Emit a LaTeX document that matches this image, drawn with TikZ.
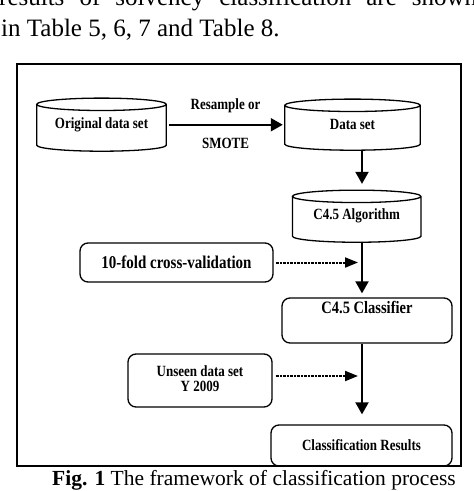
\documentclass[tikz,border=0pt]{standalone}
\usepackage{fontspec}
\usepackage{graphicx}
\setmainfont{Liberation Serif}
\usetikzlibrary{arrows.meta,calc}
\newcommand\tall[1]{\scalebox{1}[1.2]{#1}}
\newcommand\cylout[1]{%
  \draw[line width=1.3pt] let \p1=($(#1.north east)-(#1.north west)$) in
    (#1.north west) -- (#1.south west)
    arc[start angle=180,end angle=360,x radius=0.5*\x1,y radius=6pt]
    -- (#1.north east)
    arc[start angle=0,end angle=360,x radius=0.5*\x1,y radius=6.2pt];}
\begin{document}
\begin{tikzpicture}[x=1pt,y=1pt,
  lbl/.style={font=\fontsize{13}{15}\selectfont\bfseries,inner sep=0pt,align=center},
  rbox/.style={lbl,draw,rounded corners=8pt,line width=1.3pt},
  solidarrow/.style={line width=2pt,-{Triangle[length=12pt,width=13pt]}},
  dotarrow/.style={line width=2pt,dash pattern=on 0.9pt off 0.5pt,-{Triangle[length=13pt,width=10pt]}},
  para/.style={anchor=base west,inner sep=0pt,font=\fontsize{25}{30}\selectfont}]
\useasboundingbox (0,0) rectangle (474,-491);
% surrounding text
\node[para] (line1) at (-1,-5) {\makebox[478pt][s]{results of solvency classification are shown}};
\node[para] (line2) at (1,-36) {in Table 5, 6, 7 and Table 8.};
% frame
\node[draw,line width=1.5pt,minimum width=444,minimum height=402,inner sep=0pt] (frame) at (239,-265) {};
\coordinate (spine) at (362,0);
% cylinders
\node[lbl,minimum width=129,minimum height=40.5] (orig) at (101.5,-124.75) {\tall{Original data set}};
\cylout{orig}
\node[lbl,minimum width=135,minimum height=38.5] (data) at (352.5,-124.75) {\tall{Data set}};
\cylout{data}
\node[lbl,minimum width=128,minimum height=39.5] (algo) at (356.7,-216.3) {\tall{C4.5 Algorithm}};
\cylout{algo}
% rounded boxes
\node[rbox,minimum width=193,minimum height=39,font=\fontsize{15}{18}\selectfont\bfseries] (tenfold) at (176.5,-262.5) {\tall{10-fold cross-validation}};
\node[rbox,minimum width=170,minimum height=45,font=\fontsize{14.5}{17}\selectfont\bfseries,text height=11pt,text depth=26pt] (classifier) at (367,-320.5) {\tall{C4.5 Classifier}};
\node[rbox,minimum width=144,minimum height=53] (unseen) at (200,-380.5) {\tall{\fontsize{13}{12.5}\selectfont\begin{tabular}{@{}c@{}}Unseen data set\\Y 2009\end{tabular}}};
\node[rbox,minimum width=181,minimum height=41] (results) at (361.5,-445.5) {\tall{Classification Results}};
% connectors
\draw[solidarrow,shorten <=3pt,shorten >=2pt] (orig.east) -- node[lbl,above=11pt] (lblA) {\tall{Resample or}} node[lbl,below=12pt] (lblB) {\tall{SMOTE}} (data.west);
\draw[solidarrow] ($(data.south -| spine)+(0,-6)$) -- ($(algo.north -| spine)+(0,12.5)$);
\draw[solidarrow] ($(algo.south -| spine)+(0,-6)$) -- ($(classifier.north -| spine)+(0,4)$);
\draw[solidarrow] (classifier.south -| spine) -- ($(results.north -| spine)+(0,10)$);
\draw[dotarrow,shorten <=2pt,shorten >=4pt] (tenfold.east) -- (tenfold.east -| spine);
\draw[dotarrow,shorten <=3pt,shorten >=4pt] ($(unseen.east)+(0,4.5)$) -- ($(unseen.east -| spine)+(0,4.5)$);
% caption
\node[anchor=base west,inner sep=0pt,font=\fontsize{21.5}{26}\selectfont] (caption) at (52,-485) {\textbf{Fig. 1} The framework of classification process};
\end{tikzpicture}
\end{document}
